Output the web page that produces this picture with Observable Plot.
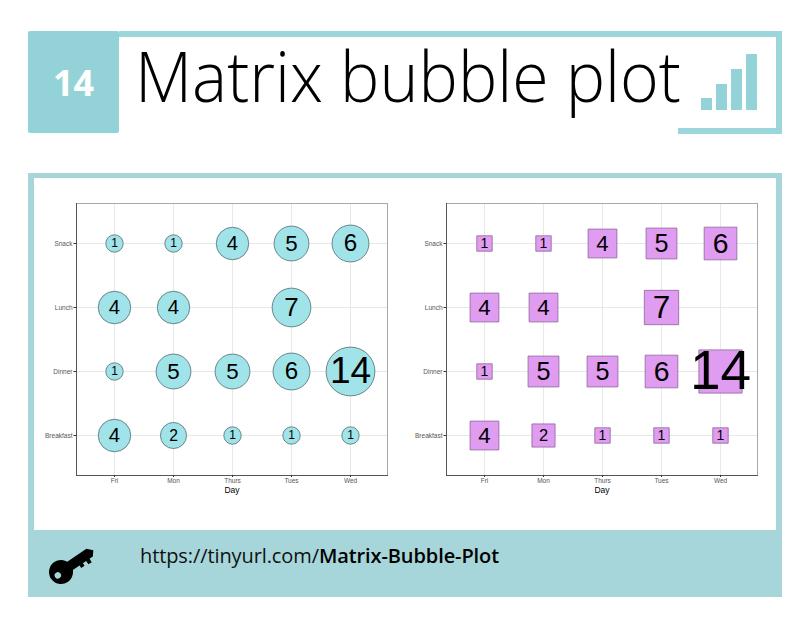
<!DOCTYPE html>
<html>
<head>
<meta charset="utf-8">
<script src="https://cdn.jsdelivr.net/npm/d3@7"></script>
<script src="https://cdn.jsdelivr.net/npm/@observablehq/plot@0.6"></script>
<style>
  html, body { margin: 0; padding: 0; background: #fff; }
  #page { position: relative; width: 810px; height: 627px; overflow: hidden; font-family: "Open Sans", sans-serif; }
  .abs { position: absolute; }
</style>
</head>
<body>
<div id="page">
  <!-- header -->
  <div class="abs" style="left:28px;top:31px;width:91px;height:102px;background:#93d3d8;border-radius:2px;"></div>
  <div class="abs" style="left:28px;top:31px;width:91px;height:102px;color:#fff;font:bold 36px 'Open Sans',sans-serif;display:flex;align-items:center;justify-content:center;">14</div>
  <div class="abs" style="left:119px;top:31px;width:663px;height:6px;background:#9ad6da;"></div>
  <div class="abs" style="left:776px;top:31px;width:6px;height:103px;background:#9ad6da;"></div>
  <div class="abs" style="left:678px;top:128px;width:104px;height:6px;background:#9ad6da;"></div>
  <svg class="abs" style="left:0;top:0;" width="810" height="150">
    <text x="135" y="102" textLength="546" lengthAdjust="spacingAndGlyphs" font-family="Open Sans" font-weight="300" font-size="70" fill="#000">Matrix bubble plot</text>
    <g fill="#93d3d8">
      <rect x="701" y="98" width="11" height="12"></rect>
      <rect x="716" y="84" width="11" height="26"></rect>
      <rect x="731" y="69" width="11" height="41"></rect>
      <rect x="746" y="54" width="11" height="56"></rect>
    </g>
  </svg>

  <!-- chart panel -->
  <div class="abs" style="left:28px;top:173px;width:754px;height:424px;background:#a6d6da;"></div>
  <div class="abs" style="left:34px;top:178px;width:742px;height:352px;background:#fff;"></div>
  <div id="left" class="abs" style="left:34px;top:178px;"></div>
  <div id="right" class="abs" style="left:400px;top:178px;"></div>

  <!-- footer -->
  <svg class="abs" style="left:0;top:530px;" width="200" height="67">
    <g transform="translate(61,42) rotate(-34)">
      <path d="M6,-5 L34,-5 L39,0 L35,5 L31,5 L31,9 L27,9 L27,5 L23,5 L23,8 L19,8 L19,5 L6,5 Z" fill="#000"></path>
      <circle cx="0" cy="0" r="12" fill="#000"></circle>
      <circle cx="-4.5" cy="1" r="3.2" fill="#a6d6da"></circle>
    </g>
  </svg>
  <div class="abs" style="left:140px;top:542px;font:20px 'Open Sans',sans-serif;color:#111;letter-spacing:-0.1px;white-space:nowrap;">https://tinyurl.com/<b style="font-weight:600;color:#000;">Matrix-Bubble-Plot</b></div>
</div>

<script>
// ---- data ----
const days = ["Fri", "Mon", "Thurs", "Tues", "Wed"];
const meals = ["Snack", "Lunch", "Dinner", "Breakfast"];
const snack     = [1, 1, 4, 5, 6];
const lunch     = [4, 4, null, 7, null];
const dinner    = [1, 5, 5, 6, 14];
const breakfast = [4, 2, 1, 1, 1];

const seriesByMeal = {Snack: snack, Lunch: lunch, Dinner: dinner, Breakfast: breakfast};
const table = [];
for (const meal of meals) {
  seriesByMeal[meal].forEach((v, i) => {
    if (v != null) table.push({day: days[i], meal, count: v});
  });
}
const maxCount = d3.max(table, d => d.count);
const minCount = d3.min(table, d => d.count);

function chart({width, marginLeft, symbol, fill, stroke, fontSize}) {
  return Plot.plot({
    width,
    height: 322,
    marginLeft,
    marginRight: 7,
    marginTop: 25,
    marginBottom: 25,
    style: {fontFamily: "'Liberation Sans', Arial, sans-serif", fontSize: "6.5px", background: "transparent", overflow: "visible"},
    x: {type: "point", domain: days, padding: 0.6, label: null},
    y: {type: "point", domain: meals, padding: 0.6, label: null},
    r: {type: "sqrt", domain: [0, maxCount - minCount], range: [8.7, 24.4]},
    marks: [
      Plot.gridX({stroke: "#e8e8e8", strokeOpacity: 1}),
      Plot.gridY({stroke: "#e8e8e8", strokeOpacity: 1}),
      Plot.frame({stroke: "#a8a8a8"}),
      Plot.frame({anchor: "left", stroke: "#555"}),
      Plot.frame({anchor: "bottom", stroke: "#555"}),
      Plot.axisY({tickSize: 2.5, tickPadding: 1.5, fill: "#555", stroke: "#333", label: null}),
      Plot.axisX({tickSize: 2, tickPadding: 0.5, fill: "#555", stroke: "#333", label: null}),
      Plot.dot(table, {x: "day", y: "meal", r: d => d.count - minCount, symbol, fill, stroke, strokeWidth: 0.8}),
      Plot.text(table, {x: "day", y: "meal", text: d => String(d.count), fontSize, fill: "#000"}),
      Plot.text(["Day"], {frameAnchor: "bottom", dy: 17.5, fontSize: 8.5, fill: "#000"})
    ]
  });
}

const t = v => (v - minCount) / (maxCount - minCount);

document.getElementById("left").appendChild(chart({
  width: 360, marginLeft: 42, symbol: "circle",
  fill: "#a0e4ea", stroke: "#4f6b6e",
  fontSize: d => 12 + 25 * Math.pow(t(d.count), 0.75)
}));
document.getElementById("right").appendChild(chart({
  width: 364, marginLeft: 46, symbol: "square",
  fill: "#e09cf0", stroke: "#8a6598",
  fontSize: d => 14 + 41 * Math.pow(t(d.count), 1.1)
}));
</script>
</body>
</html>
